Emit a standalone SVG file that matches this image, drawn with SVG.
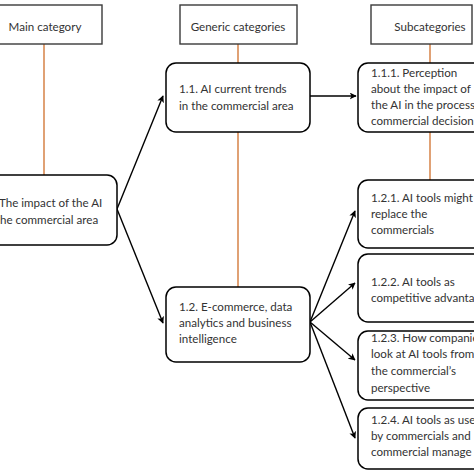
<svg xmlns="http://www.w3.org/2000/svg" width="474" height="474" viewBox="0 0 474 474">
<defs>
<style>
.hdr{fill:#fff;stroke:#3a3a3a;stroke-width:1.4}
.box{fill:#fff;stroke:#000;stroke-width:1.5}
.t{font-family:Lato,"Liberation Sans",sans-serif;font-size:11.6px;fill:#333}
.or{stroke:#d98a52;stroke-width:1.6;fill:none}
.ar{stroke:#000;stroke-width:1.4;fill:none;marker-end:url(#ah)}
</style>
<marker id="ah" viewBox="0 0 10 10" refX="9" refY="5" markerWidth="7" markerHeight="7" orient="auto" markerUnits="userSpaceOnUse">
<path d="M0,0 L10,5 L0,10 L2.5,5 z" fill="#000"/>
</marker>
</defs>
<rect width="474" height="474" fill="#fff"/>
<g id="connectors">
<line class="or" x1="44" y1="44" x2="44" y2="175"/>
<line class="or" x1="238" y1="44" x2="238" y2="63"/>
<line class="or" x1="238" y1="132" x2="238" y2="287"/>
<line class="or" x1="430" y1="44" x2="430" y2="63"/>
<line class="or" x1="430" y1="132" x2="430" y2="180"/>
<line class="ar" x1="117" y1="209" x2="163" y2="96"/>
<line class="ar" x1="117" y1="209" x2="163" y2="323"/>
<line class="ar" x1="310" y1="96" x2="356" y2="96"/>
<line class="ar" x1="310" y1="322" x2="355" y2="211"/>
<line class="ar" x1="310" y1="322" x2="355" y2="283"/>
<line class="ar" x1="310" y1="322" x2="355" y2="360"/>
<line class="ar" x1="310" y1="322" x2="355" y2="438"/>
</g>
<g id="h-main"><rect class="hdr" x="-2" y="5" width="104" height="39"/><text class="t" x="45" y="31" text-anchor="middle">Main category</text></g>
<g id="h-generic"><rect class="hdr" x="180" y="5" width="117" height="39"/><text class="t" x="238" y="31" text-anchor="middle">Generic categories</text></g>
<g id="h-sub"><rect class="hdr" x="371" y="5" width="101" height="39"/><text class="t" x="430" y="31" text-anchor="middle">Subcategories</text></g>
<g id="n-main"><rect class="box" x="-20" y="175" width="137" height="70" rx="10"/><text class="t" x="-1" y="207">The impact of the AI</text><text class="t" x="0" y="224">he commercial area</text></g>
<g id="n-1-1"><rect class="box" x="166" y="63" width="144" height="69" rx="10"/><text class="t" x="179" y="93">1.1. AI current trends</text><text class="t" x="179" y="110">in the commercial area</text></g>
<g id="n-1-2"><rect class="box" x="166" y="287" width="144" height="75" rx="10"/><text class="t" x="179" y="311">1.2. E-commerce, data</text><text class="t" x="179" y="327">analytics and business</text><text class="t" x="179" y="343">intelligence</text></g>
<g id="n-1-1-1"><rect class="box" x="358" y="63" width="130" height="69" rx="10"/><text class="t" x="371" y="77">1.1.1. Perception</text><text class="t" x="371" y="93">about the impact of</text><text class="t" x="371" y="109">the AI in the process</text><text class="t" x="371" y="125">commercial decision</text></g>
<g id="n-1-2-1"><rect class="box" x="358" y="180" width="130" height="68" rx="10"/><text class="t" x="371" y="202">1.2.1. AI tools might</text><text class="t" x="371" y="218">replace the</text><text class="t" x="371" y="234">commercials</text></g>
<g id="n-1-2-2"><rect class="box" x="358" y="254" width="130" height="68" rx="10"/><text class="t" x="371" y="286">1.2.2. AI tools as</text><text class="t" x="371" y="302">competitive advanta</text></g>
<g id="n-1-2-3"><rect class="box" x="358" y="331" width="130" height="69" rx="10"/><text class="t" x="371" y="342">1.2.3. How companie</text><text class="t" x="371" y="358">look at AI tools from</text><text class="t" x="371" y="375">the commercial’s</text><text class="t" x="371" y="392">perspective</text></g>
<g id="n-1-2-4"><rect class="box" x="358" y="408" width="130" height="61" rx="10"/><text class="t" x="371" y="424">1.2.4. AI tools as use</text><text class="t" x="371" y="440">by commercials and</text><text class="t" x="371" y="456">commercial manage</text></g>
</svg>
